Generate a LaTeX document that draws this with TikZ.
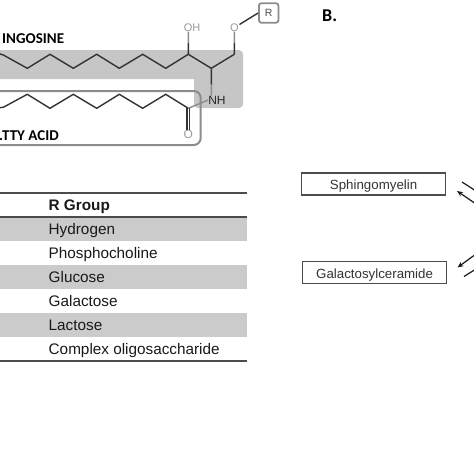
\documentclass[tikz,border=0pt]{standalone}
\usepackage{fontspec}
\usetikzlibrary{calc,arrows.meta}
\setmainfont{Liberation Sans}
\newfontfamily\headfont{Carlito}
\definecolor{band}{HTML}{CBCBCB}
\definecolor{shadeg}{HTML}{C6C6C6}
\definecolor{boxg}{HTML}{8C8C8C}
\definecolor{ink}{HTML}{333333}
\definecolor{atom}{HTML}{9A9A9A}
\begin{document}
\begin{tikzpicture}[x=1pt,y=-1pt,
  bond/.style={draw=ink,line width=1.4pt,line join=miter},
  lightbond/.style={draw=boxg,line width=1.4pt},
  atomlabel/.style={inner sep=0pt,font=\fontsize{11}{11}\selectfont},
  head/.style={inner sep=0pt,anchor=west,font=\headfont\bfseries\fontsize{15}{15}\selectfont,text=black},
  rowtext/.style={inner sep=0pt,anchor=base west,font=\fontsize{15.3}{15.3}\selectfont,text=black!90},
  rule/.style={draw=black!70,line width=1.1pt},
  namebox/.style={draw=black!70,line width=1.1pt,fill=white,inner sep=0pt,minimum height=22pt,minimum width=144pt,font=\fontsize{13.3}{13.3}\selectfont,text=black!80},
  reactarrow/.style={draw=black!90,line width=1.2pt,-{Stealth[length=6pt,width=5pt]}},
  reactline/.style={draw=black!90,line width=1.2pt}]
\useasboundingbox (0,0) rectangle (474,474);
\begin{scope}
\clip (0,0) rectangle (474,474);
% shaded sphingosine region
\fill[shadeg,rounded corners=4pt] (-6,50) -- (243,50) -- (243,108) -- (194,108) [sharp corners] -- (194,79) -- (-6,79) -- cycle;
% fatty acid box
\node[draw=boxg,line width=2pt,rounded corners=7pt,minimum width=212pt,minimum height=54pt,inner sep=0pt] (fabox) at (94.7,118) {};
% labels
\node[head] (sph) at (2,39) {INGOSINE};
\node[head] (fa) at (-1,135.5) {.TTY ACID};
\node[atomlabel,text=atom] (oh) at (192,27.5) {OH};
\node[atomlabel,text=atom] (oa) at (234.5,27.5) {O};
\node[atomlabel,text=black!85,font=\fontsize{12}{12}\selectfont] (nh) at (217,100) {NH};
\node[atomlabel,text=atom,font=\fontsize{12}{12}\selectfont] (ob) at (188.3,134.5) {O};
\node[draw=boxg,line width=1.8pt,rounded corners=2.5pt,minimum size=19.5pt,inner sep=0pt,text=black!70,font=\fontsize{10.5}{10.5}\selectfont] (r) at (268.7,13) {R};
% chain coordinates
\coordinate (c1) at (188.3,54.3);
\coordinate (c2) at (211.3,68.3);
\coordinate (c3) at (234.3,54.3);
\coordinate (c4) at (188.3,108.3);
% sphingosine chain
\draw[bond] (-3,53) -- (3.3,55) -- (27.3,68.3) -- (50,54.3) -- (73.3,68.3) -- (96.7,54.3) -- (119.3,68.3) -- (142.7,54.3) -- (165.7,68.3) -- (c1) -- (c2) -- (c3);
% fatty chain
\draw[bond] (-3,108) -- (3.3,107.3) -- (27.3,94.3) -- (50,108.3) -- (73.3,94.3) -- (96.7,108.3) -- (119.3,94.3) -- (142.7,108.3) -- (165.7,94.3) -- (c4);
% bonds to atoms
\draw[bond] (c1) -- ($(c1)!0.5!(oh.south -| c1)$);
\draw[lightbond] ($(c1)!0.5!(oh.south -| c1)$) -- (oh.south -| c1);
\draw[bond] (c3) -- ($(c3)!0.5!(oa.south -| c3)$);
\draw[lightbond] ($(c3)!0.5!(oa.south -| c3)$) -- (oa.south -| c3);
\draw[bond] (c2) -- ($(c2)!0.6!(c2 |- nh.north)$);
\draw[lightbond] ($(c2)!0.6!(c2 |- nh.north)$) -- (c2 |- nh.north);
\draw[lightbond] (c4) -- (nh.west);
\coordinate (oaout) at ($(oa.east)+(0.5,-3)$);
\draw[bond] (oaout) -- (r.west);
\draw[bond] ([xshift=-1.3pt]c4) -- ([xshift=-1.3pt]c4 |- ob.north);
\draw[bond] ([xshift=1.3pt]c4) -- ([xshift=1.3pt]c4 |- ob.north);
% table
\fill[band] (0,217) rectangle (247,241);
\fill[band] (0,265) rectangle (247,289);
\fill[band] (0,313) rectangle (247,337);
\draw[rule] (0,193) -- (247,193);
\draw[rule] (0,217) -- (247,217);
\draw[rule] (0,361) -- (247,361);
\node[rowtext,font=\bfseries\fontsize{15.3}{15.3}\selectfont] (t0) at (48.5,210) {R Group};
\node[rowtext] (t1) at (48.5,234) {Hydrogen};
\node[rowtext] (t2) at (48.5,258) {Phosphocholine};
\node[rowtext] (t3) at (48.5,282) {Glucose};
\node[rowtext] (t4) at (48.5,306) {Galactose};
\node[rowtext] (t5) at (48.5,330) {Lactose};
\node[rowtext] (t6) at (48.5,354) {Complex oligosaccharide};
% panel B
\node[head,font=\headfont\bfseries\fontsize{18}{18}\selectfont] (b) at (322,15.5) {B.};
\node[namebox,text depth=0pt] (sm) at (373.6,184) {\raisebox{-2pt}{Sphingomyelin}};
\node[namebox,text depth=0pt] (gc) at (374.6,272.7) {\raisebox{-2pt}{Galactosylceramide}};
\coordinate (a1s) at (462,182);
\coordinate (a1e) at (476,191);
\coordinate (a2s) at (476,204);
\coordinate (a2e) at (457,191);
\coordinate (a3s) at (476,254);
\coordinate (a3e) at (457.5,267.5);
\coordinate (a4s) at (464,276.5);
\coordinate (a4e) at (476,269);
\draw[reactline] (a1s) -- (a1e);
\draw[reactarrow] (a2s) -- (a2e);
\draw[reactarrow] (a3s) -- (a3e);
\draw[reactline] (a4s) -- (a4e);
\end{scope}
\end{tikzpicture}
\end{document}
